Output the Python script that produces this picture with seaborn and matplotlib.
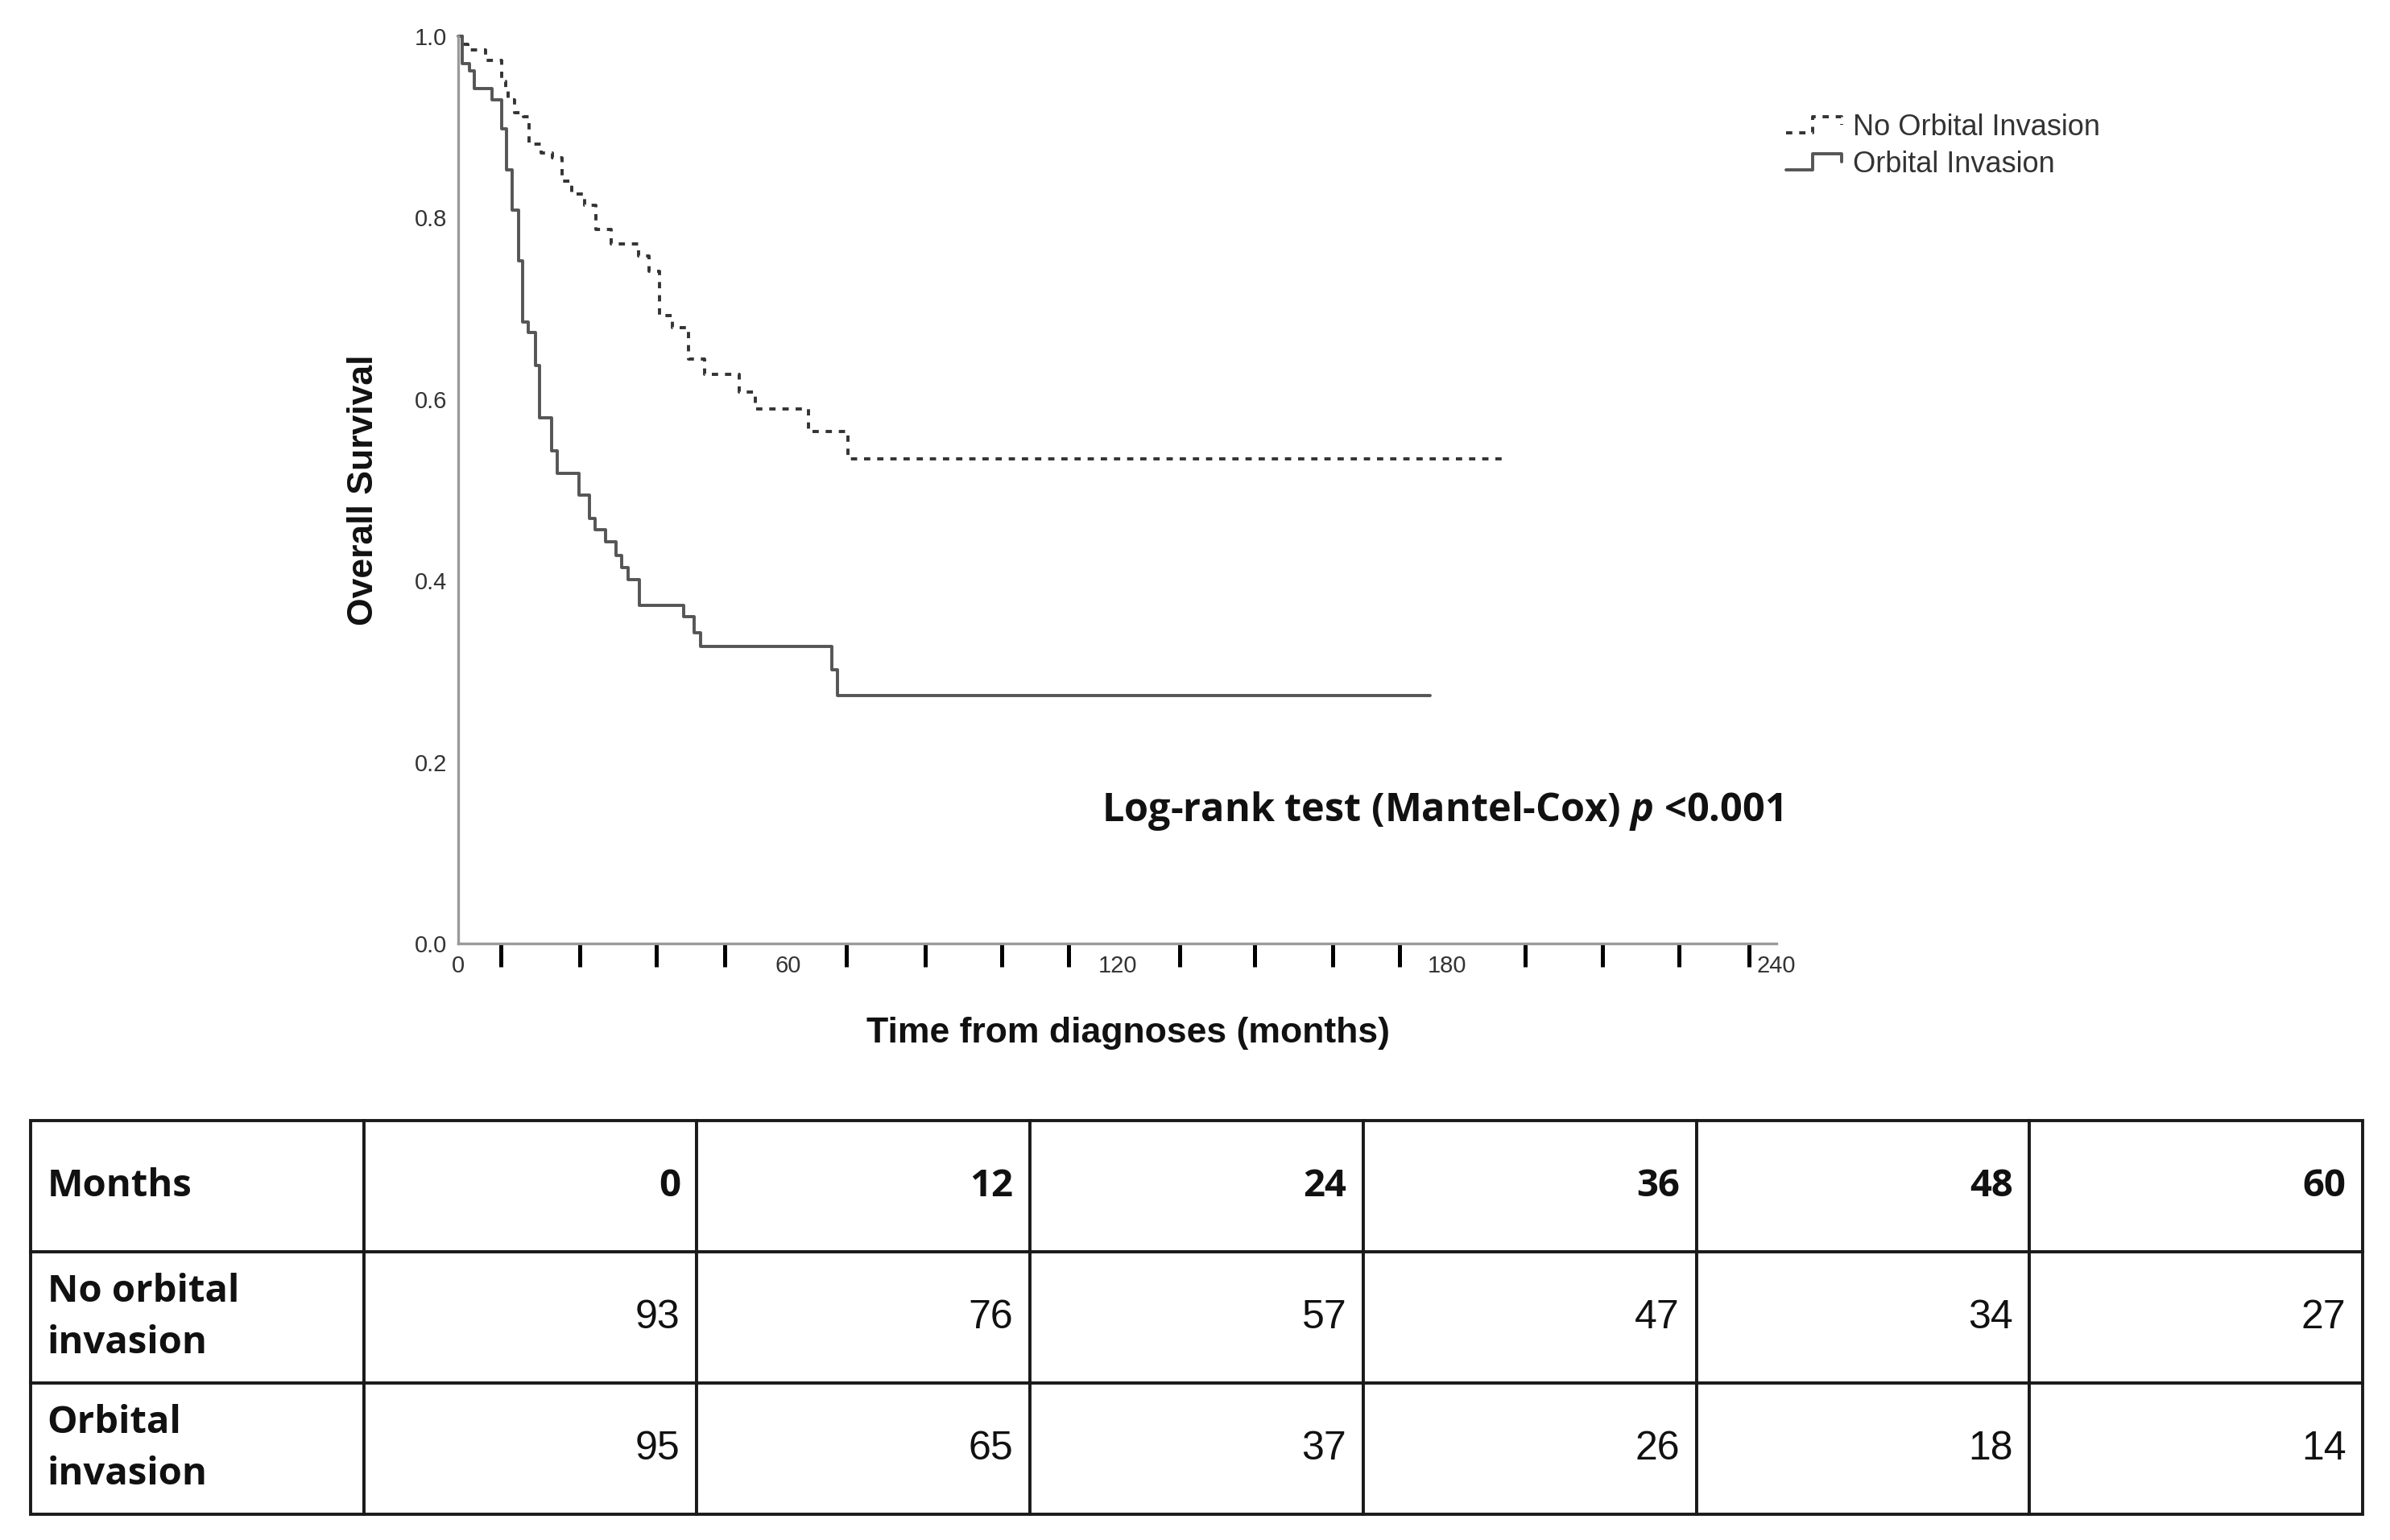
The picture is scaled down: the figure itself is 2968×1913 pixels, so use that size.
import numpy as np
import pandas as pd
import matplotlib
matplotlib.use('Agg')
import matplotlib.pyplot as plt
import seaborn as sns
from matplotlib.lines import Line2D
from matplotlib.legend_handler import HandlerBase
from matplotlib.table import Table

# Kaplan-Meier steps (months, survival after step)
no_orb_time = [0, 0.7, 1.8, 5.0, 7.9, 8.7, 9.1, 10.2, 11.9, 12.9, 15.1, 17.1, 18.9,
               20.7, 23.0, 25.0, 27.9, 32.8, 34.7, 36.7, 39.0, 42.0, 44.8, 51.1,
               54.1, 63.8, 71.0, 190.5]
no_orb_surv = [1.0, 0.991, 0.985, 0.973, 0.950, 0.943, 0.930, 0.916, 0.911, 0.881,
               0.871, 0.866, 0.840, 0.826, 0.814, 0.787, 0.771, 0.758, 0.741, 0.692,
               0.679, 0.644, 0.627, 0.608, 0.589, 0.564, 0.534, 0.534]

orb_time = [0, 0.7, 2.0, 2.9, 6.1, 7.9, 8.8, 9.9, 11.0, 11.8, 12.8, 14.1, 14.8, 17.0,
            18.1, 22.0, 23.9, 24.9, 26.8, 28.8, 29.8, 30.9, 33.0, 41.0, 43.0, 44.1,
            68.0, 69.0, 177.0]
orb_surv = [1.0, 0.970, 0.962, 0.942, 0.930, 0.898, 0.853, 0.808, 0.752, 0.685,
            0.673, 0.637, 0.579, 0.543, 0.518, 0.494, 0.468, 0.456, 0.443, 0.428,
            0.414, 0.401, 0.373, 0.360, 0.342, 0.327, 0.302, 0.273, 0.273]

groups = ['No Orbital Invasion', 'Orbital Invasion']

x_ticks = [0, 60, 120, 180, 240]
y_ticks = [0.0, 0.2, 0.4, 0.6, 0.8, 1.0]
# black tick marks drawn along the time axis
mark_ticks = [7.8, 22.2, 36.1, 48.6, 70.6, 85.0, 98.9, 111.1, 131.4, 145.0,
              159.2, 171.4, 194.2, 208.3, 222.2, 235.0]

# numbers at risk
risk_header = 'Months'
risk_months = [0, 12, 24, 36, 48, 60]
risk_rows = ['No orbital\ninvasion', 'Orbital\ninvasion']
risk_no_orb = [93, 76, 57, 47, 34, 27]
risk_orb = [95, 65, 37, 26, 18, 14]

df = pd.concat([
    pd.DataFrame({'time': no_orb_time, 'surv': no_orb_surv, 'group': groups[0]}),
    pd.DataFrame({'time': orb_time, 'surv': orb_surv, 'group': groups[1]}),
], ignore_index=True)

sns.set_style('white')
plt.rcParams['font.family'] = ['Liberation Sans', 'DejaVu Sans']
plt.rcParams['mathtext.fontset'] = 'custom'
plt.rcParams['mathtext.it'] = 'Open Sans:italic:bold'
plt.rcParams['mathtext.rm'] = 'Open Sans:bold'

fig = plt.figure(figsize=(14.84, 9.565), dpi=200)
ax = fig.add_axes([0.1917, 0.3874, 0.5516, 0.5891])

palette = {groups[0]: '#333333', groups[1]: '#555555'}
dashes = {groups[0]: (2.0, 2.2), groups[1]: ''}
sns.lineplot(data=df, x='time', y='surv', hue='group', style='group',
             palette=palette, dashes=dashes, drawstyle='steps-post',
             estimator=None, sort=False, legend=False, linewidth=1.4,
             ax=ax, clip_on=False)

ax.set_xlim(0, 240)
ax.set_ylim(0, 1.0)
ax.set_xticks(x_ticks)
ax.set_xticklabels([str(t) for t in x_ticks])
ax.set_xticks(mark_ticks, minor=True)
ax.set_yticks(y_ticks)
ax.set_yticklabels([f'{t:.1f}' for t in y_ticks])
ax.tick_params(axis='x', which='major', length=0, pad=5, labelsize=10.5, labelcolor='#333333')
ax.tick_params(axis='x', which='minor', length=10.5, width=1.8, color='black',
               direction='out', bottom=True)
ax.tick_params(axis='y', length=0, pad=5, labelsize=10.5, labelcolor='#333333')

for side in ['top', 'right']:
    ax.spines[side].set_visible(False)
for side in ['left', 'bottom']:
    ax.spines[side].set_color('#9a9a9a')
    ax.spines[side].set_linewidth(1.2)

ax.set_xlabel('Time from diagnoses (months)', fontsize=16, fontweight='bold', color='#111111')
ax.set_ylabel('Overall Survival', fontsize=16, fontweight='bold', color='#111111')
ax.xaxis.set_label_coords(0.508, -0.0806)
ax.yaxis.set_label_coords(-0.059, 0.5)

fig.text(2213 / 2968, 1 - 1008 / 1913, r'Log-rank test (Mantel-Cox) $p$ <0.001',
         ha='right', va='center', fontsize=17.5, fontweight='bold',
         family=['Open Sans', 'DejaVu Sans'], color='#111111')


class StepHandler(HandlerBase):
    def create_artists(self, legend, orig_handle, xdescent, ydescent,
                       width, height, fontsize, trans):
        xs = np.array([0, 0.45, 0.45, 0.95, 0.95]) * width - xdescent
        ys = np.array([0.1, 0.1, 0.9, 0.9, 0.5]) * height - ydescent
        line = Line2D(xs, ys)
        self.update_prop(line, orig_handle, legend)
        line.set_transform(trans)
        return [line]


h0 = Line2D([], [], color=palette[groups[0]], lw=1.4, dashes=(2.0, 2.2))
h1 = Line2D([], [], color=palette[groups[1]], lw=1.4)
fig.legend([h0, h1], groups, loc='upper left',
           bbox_to_anchor=(2218 / 2968, 1 - 141 / 1913),
           frameon=False, fontsize=13, handlelength=2.0, handletextpad=0.3,
           labelspacing=0.3, borderpad=0, borderaxespad=0,
           handler_map={h0: StepHandler(), h1: StepHandler()},
           labelcolor='#333333')

# numbers-at-risk table
tax = fig.add_axes([0.0128, 0.0167, 0.9758, 0.2556])
tax.axis('off')
tbl = Table(tax, bbox=[0, 0, 1, 1])
ncol = len(risk_months) + 1
rows = [[risk_header] + [str(m) for m in risk_months],
        [risk_rows[0]] + [str(v) for v in risk_no_orb],
        [risk_rows[1]] + [str(v) for v in risk_orb]]
for r, row in enumerate(rows):
    for c, txt in enumerate(row):
        cell = tbl.add_cell(r, c, width=1 / ncol, height=1 / 3, text=txt,
                            loc='left' if c == 0 else 'right',
                            edgecolor='#1a1a1a', facecolor='white')
        cell.PAD = 0.05
        cell.set_linewidth(1.4)
        t = cell.get_text()
        t.set_color('#111111')
        t.set_linespacing(1.45)
        if c == 0 or r == 0:
            t.set_fontsize(17)
            t.set_fontfamily(['Open Sans', 'DejaVu Sans'])
            t.set_fontweight('bold')
        else:
            t.set_fontsize(18)
            t.set_fontfamily(['Liberation Sans', 'DejaVu Sans'])
tbl.auto_set_font_size(False)
tax.add_table(tbl)

fig.savefig('out.png', dpi=200, facecolor='white')
